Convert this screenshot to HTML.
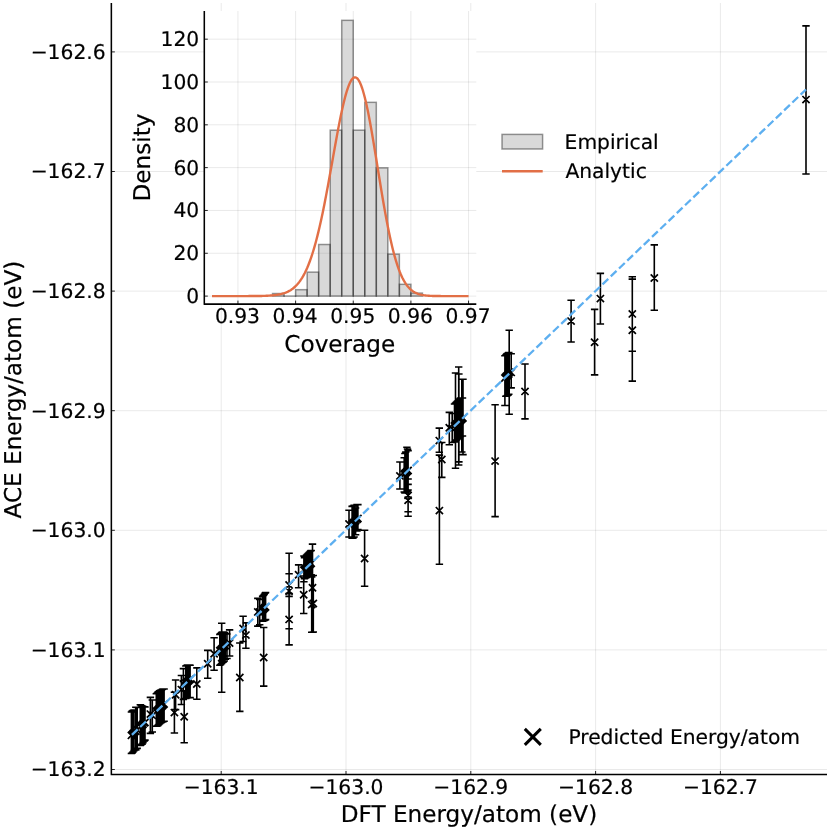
<!DOCTYPE html>
<html lang="en"><head><meta charset="utf-8"><title>ACE vs DFT Energy per atom</title>
<style>html,body{margin:0;padding:0;background:#fff}svg{display:block}</style></head>
<body>
<svg width="830" height="830" viewBox="0 0 830 830" font-family='"DejaVu Sans","Liberation Sans",sans-serif' text-rendering="geometricPrecision" stroke-linecap="butt">
<rect width="830" height="830" fill="#fff"/>
<g id="maingrid">
<line x1="221.20" y1="3.0" x2="221.20" y2="774.5" stroke="#000" stroke-opacity="0.085" stroke-width="1"/>
<line x1="346.00" y1="3.0" x2="346.00" y2="774.5" stroke="#000" stroke-opacity="0.085" stroke-width="1"/>
<line x1="470.80" y1="3.0" x2="470.80" y2="774.5" stroke="#000" stroke-opacity="0.085" stroke-width="1"/>
<line x1="595.60" y1="3.0" x2="595.60" y2="774.5" stroke="#000" stroke-opacity="0.085" stroke-width="1"/>
<line x1="720.40" y1="3.0" x2="720.40" y2="774.5" stroke="#000" stroke-opacity="0.085" stroke-width="1"/>
<line x1="111.35" y1="769.50" x2="827.0" y2="769.50" stroke="#000" stroke-opacity="0.085" stroke-width="1"/>
<line x1="111.35" y1="649.90" x2="827.0" y2="649.90" stroke="#000" stroke-opacity="0.085" stroke-width="1"/>
<line x1="111.35" y1="530.30" x2="827.0" y2="530.30" stroke="#000" stroke-opacity="0.085" stroke-width="1"/>
<line x1="111.35" y1="410.70" x2="827.0" y2="410.70" stroke="#000" stroke-opacity="0.085" stroke-width="1"/>
<line x1="111.35" y1="291.10" x2="827.0" y2="291.10" stroke="#000" stroke-opacity="0.085" stroke-width="1"/>
<line x1="111.35" y1="171.50" x2="827.0" y2="171.50" stroke="#000" stroke-opacity="0.085" stroke-width="1"/>
<line x1="111.35" y1="51.90" x2="827.0" y2="51.90" stroke="#000" stroke-opacity="0.085" stroke-width="1"/>
</g>
<g id="errbars" stroke="#000" stroke-width="1.6" fill="none">
<path d="M131.4 712.0V753.5M127.7 712.0h7.4M127.7 753.5h7.4M132.2 711.0V753.0M128.5 711.0h7.4M128.5 753.0h7.4M133.0 710.5V752.0M129.3 710.5h7.4M129.3 752.0h7.4M134.0 710.0V750.6M130.3 710.0h7.4M130.3 750.6h7.4M135.8 707.2V750.0M132.1 707.2h7.4M132.1 750.0h7.4M137.2 707.5V748.4M133.5 707.5h7.4M133.5 748.4h7.4M140.3 704.7V745.5M136.6 704.7h7.4M136.6 745.5h7.4M141.2 705.5V744.8M137.5 705.5h7.4M137.5 744.8h7.4M142.1 706.0V744.1M138.4 706.0h7.4M138.4 744.1h7.4M143.0 706.5V742.6M139.3 706.5h7.4M139.3 742.6h7.4M144.4 706.9V741.0M140.7 706.9h7.4M140.7 741.0h7.4M145.0 707.0V740.1M141.3 707.0h7.4M141.3 740.1h7.4M150.4 697.4V733.4M146.7 697.4h7.4M146.7 733.4h7.4M152.3 700.0V732.0M148.6 700.0h7.4M148.6 732.0h7.4M156.3 693.8V726.3M152.6 693.8h7.4M152.6 726.3h7.4M157.2 693.0V726.0M153.5 693.0h7.4M153.5 726.0h7.4M158.0 692.0V725.4M154.3 692.0h7.4M154.3 725.4h7.4M158.8 691.5V724.5M155.1 691.5h7.4M155.1 724.5h7.4M159.6 690.8V723.7M155.9 690.8h7.4M155.9 723.7h7.4M160.5 690.4V723.0M156.8 690.4h7.4M156.8 723.0h7.4M161.3 690.0V722.5M157.6 690.0h7.4M157.6 722.5h7.4M162.2 689.5V722.0M158.5 689.5h7.4M158.5 722.0h7.4M163.0 689.0V721.6M159.3 689.0h7.4M159.3 721.6h7.4M164.1 689.0V721.3M160.4 689.0h7.4M160.4 721.3h7.4M174.4 692.2V733.0M170.7 692.2h7.4M170.7 733.0h7.4M175.6 680.0V709.6M171.9 680.0h7.4M171.9 709.6h7.4M181.4 675.5V704.5M177.7 675.5h7.4M177.7 704.5h7.4M184.2 690.8V742.8M180.5 690.8h7.4M180.5 742.8h7.4M183.4 668.6V699.4M179.7 668.6h7.4M179.7 699.4h7.4M185.8 666.0V698.5M182.1 666.0h7.4M182.1 698.5h7.4M186.7 665.5V698.0M183.0 665.5h7.4M183.0 698.0h7.4M187.6 665.0V697.7M183.9 665.0h7.4M183.9 697.7h7.4M188.5 665.0V697.5M184.8 665.0h7.4M184.8 697.5h7.4M189.4 665.0V697.5M185.7 665.0h7.4M185.7 697.5h7.4M190.1 665.2V697.6M186.4 665.2h7.4M186.4 697.6h7.4M196.8 667.9V699.2M193.2 667.9h7.4M193.2 699.2h7.4M207.7 650.4V678.2M204.0 650.4h7.4M204.0 678.2h7.4M214.1 637.8V670.3M210.4 637.8h7.4M210.4 670.3h7.4M221.7 623.3V692.2M218.0 623.3h7.4M218.0 692.2h7.4M219.8 634.4V665.2M216.1 634.4h7.4M216.1 665.2h7.4M220.7 633.5V664.5M217.0 633.5h7.4M217.0 664.5h7.4M221.6 632.5V663.5M217.9 632.5h7.4M217.9 663.5h7.4M222.5 632.0V662.5M218.8 632.0h7.4M218.8 662.5h7.4M223.4 632.0V662.0M219.7 632.0h7.4M219.7 662.0h7.4M224.3 632.5V661.0M220.6 632.5h7.4M220.6 661.0h7.4M225.3 633.5V659.3M221.6 633.5h7.4M221.6 659.3h7.4M227.0 634.0V658.5M223.3 634.0h7.4M223.3 658.5h7.4M229.6 629.9V656.0M225.9 629.9h7.4M225.9 656.0h7.4M239.8 643.0V711.4M236.1 643.0h7.4M236.1 711.4h7.4M243.1 616.2V641.5M239.4 616.2h7.4M239.4 641.5h7.4M245.9 622.9V648.3M242.2 622.9h7.4M242.2 648.3h7.4M257.8 598.4V626.1M254.1 598.4h7.4M254.1 626.1h7.4M259.7 599.5V624.8M256.0 599.5h7.4M256.0 624.8h7.4M262.6 596.4V621.1M258.9 596.4h7.4M258.9 621.1h7.4M263.4 595.5V620.8M259.7 595.5h7.4M259.7 620.8h7.4M264.2 594.5V620.4M260.5 594.5h7.4M260.5 620.4h7.4M265.0 593.3V620.0M261.3 593.3h7.4M261.3 620.0h7.4M265.6 592.5V619.6M261.9 592.5h7.4M261.9 619.6h7.4M263.7 627.5V686.1M260.0 627.5h7.4M260.0 686.1h7.4M289.1 573.7V596.4M285.4 573.7h7.4M285.4 596.4h7.4M289.1 553.3V628.8M285.4 553.3h7.4M285.4 628.8h7.4M289.1 593.6V644.9M285.4 593.6h7.4M285.4 644.9h7.4M298.6 564.9V587.8M294.9 564.9h7.4M294.9 587.8h7.4M303.7 576.0V613.5M300.0 576.0h7.4M300.0 613.5h7.4M304.5 557.6V578.7M300.8 557.6h7.4M300.8 578.7h7.4M305.5 556.0V578.0M301.8 556.0h7.4M301.8 578.0h7.4M306.5 555.0V577.5M302.8 555.0h7.4M302.8 577.5h7.4M307.5 554.0V577.0M303.8 554.0h7.4M303.8 577.0h7.4M308.5 553.0V576.5M304.8 553.0h7.4M304.8 576.5h7.4M309.5 552.0V576.0M305.8 552.0h7.4M305.8 576.0h7.4M310.5 551.0V575.5M306.8 551.0h7.4M306.8 575.5h7.4M311.2 550.5V574.8M307.5 550.5h7.4M307.5 574.8h7.4M303.9 556.0V581.8M300.2 556.0h7.4M300.2 581.8h7.4M311.7 577.0V632.2M308.0 577.0h7.4M308.0 632.2h7.4M312.5 544.1V632.2M308.8 544.1h7.4M308.8 632.2h7.4M313.3 575.5V632.0M309.6 575.5h7.4M309.6 632.0h7.4M349.0 510.2V537.0M345.3 510.2h7.4M345.3 537.0h7.4M352.1 506.4V538.1M348.4 506.4h7.4M348.4 538.1h7.4M353.1 506.0V538.0M349.4 506.0h7.4M349.4 538.0h7.4M354.1 505.4V537.0M350.4 505.4h7.4M350.4 537.0h7.4M355.6 508.0V534.8M351.9 508.0h7.4M351.9 534.8h7.4M357.0 504.6V531.0M353.3 504.6h7.4M353.3 531.0h7.4M357.9 504.6V529.6M354.2 504.6h7.4M354.2 529.6h7.4M364.6 530.3V586.3M360.9 530.3h7.4M360.9 586.3h7.4M399.9 462.0V489.0M396.2 462.0h7.4M396.2 489.0h7.4M404.2 457.8V492.0M400.5 457.8h7.4M400.5 492.0h7.4M404.9 453.5V493.0M401.2 453.5h7.4M401.2 493.0h7.4M405.8 452.0V493.0M402.1 452.0h7.4M402.1 493.0h7.4M406.9 447.2V492.0M403.2 447.2h7.4M403.2 492.0h7.4M407.5 449.0V491.0M403.8 449.0h7.4M403.8 491.0h7.4M408.1 450.6V490.0M404.4 450.6h7.4M404.4 490.0h7.4M408.1 479.0V511.8M404.4 479.0h7.4M404.4 511.8h7.4M408.1 484.4V516.2M404.4 484.4h7.4M404.4 516.2h7.4M439.4 455.1V564.2M435.7 455.1h7.4M435.7 564.2h7.4M439.3 428.1V452.3M435.6 428.1h7.4M435.6 452.3h7.4M441.8 442.5V477.4M438.1 442.5h7.4M438.1 477.4h7.4M449.3 412.4V444.8M445.6 412.4h7.4M445.6 444.8h7.4M452.2 413.5V442.5M448.5 413.5h7.4M448.5 442.5h7.4M455.5 373.0V468.2M451.8 373.0h7.4M451.8 468.2h7.4M458.9 374.0V461.9M455.2 374.0h7.4M455.2 461.9h7.4M458.7 367.0V465.0M455.0 367.0h7.4M455.0 465.0h7.4M461.8 379.2V452.0M458.1 379.2h7.4M458.1 452.0h7.4M463.0 379.2V454.6M459.3 379.2h7.4M459.3 454.6h7.4M454.5 404.0V442.0M450.8 404.0h7.4M450.8 442.0h7.4M455.5 403.0V441.0M451.8 403.0h7.4M451.8 441.0h7.4M456.5 402.0V440.0M452.8 402.0h7.4M452.8 440.0h7.4M457.5 401.0V439.0M453.8 401.0h7.4M453.8 439.0h7.4M458.5 400.0V438.0M454.8 400.0h7.4M454.8 438.0h7.4M459.5 399.0V437.0M455.8 399.0h7.4M455.8 437.0h7.4M460.5 398.0V436.5M456.8 398.0h7.4M456.8 436.5h7.4M461.5 398.0V436.0M457.8 398.0h7.4M457.8 436.0h7.4M462.5 398.0V436.0M458.8 398.0h7.4M458.8 436.0h7.4M495.1 404.7V516.6M491.4 404.7h7.4M491.4 516.6h7.4M509.2 330.2V414.2M505.5 330.2h7.4M505.5 414.2h7.4M504.9 355.8V405.5M501.2 355.8h7.4M501.2 405.5h7.4M505.8 355.0V396.3M502.1 355.0h7.4M502.1 396.3h7.4M506.6 354.0V396.0M502.9 354.0h7.4M502.9 396.0h7.4M507.4 353.5V395.5M503.7 353.5h7.4M503.7 395.5h7.4M508.2 353.0V395.0M504.5 353.0h7.4M504.5 395.0h7.4M508.8 352.5V394.3M505.1 352.5h7.4M505.1 394.3h7.4M511.2 353.8V387.9M507.5 353.8h7.4M507.5 387.9h7.4M525.0 364.0V418.9M521.3 364.0h7.4M521.3 418.9h7.4M571.1 300.2V342.0M567.4 300.2h7.4M567.4 342.0h7.4M594.6 309.4V374.9M590.9 309.4h7.4M590.9 374.9h7.4M600.4 273.4V324.0M596.7 273.4h7.4M596.7 324.0h7.4M632.3 276.7V351.2M628.6 276.7h7.4M628.6 351.2h7.4M632.3 279.1V381.1M628.6 279.1h7.4M628.6 381.1h7.4M654.3 244.9V310.2M650.6 244.9h7.4M650.6 310.2h7.4M806.0 25.9V174.0M802.3 25.9h7.4M802.3 174.0h7.4"/>
</g>
<g id="markers" stroke="#000" stroke-width="1.7" fill="none">
<path d="M127.8 731.8l7.2 7.2M127.8 739.0l7.2 -7.2M128.6 731.0l7.2 7.2M128.6 738.2l7.2 -7.2M129.4 730.2l7.2 7.2M129.4 737.4l7.2 -7.2M130.4 729.3l7.2 7.2M130.4 736.5l7.2 -7.2M132.2 727.6l7.2 7.2M132.2 734.8l7.2 -7.2M133.6 726.2l7.2 7.2M133.6 733.4l7.2 -7.2M136.7 723.3l7.2 7.2M136.7 730.5l7.2 -7.2M137.6 722.4l7.2 7.2M137.6 729.6l7.2 -7.2M138.5 721.5l7.2 7.2M138.5 728.7l7.2 -7.2M139.4 720.7l7.2 7.2M139.4 727.9l7.2 -7.2M140.8 719.3l7.2 7.2M140.8 726.5l7.2 -7.2M141.4 718.8l7.2 7.2M141.4 726.0l7.2 -7.2M146.8 710.5l7.2 7.2M146.8 717.7l7.2 -7.2M148.7 711.8l7.2 7.2M148.7 719.0l7.2 -7.2M152.7 707.9l7.2 7.2M152.7 715.1l7.2 -7.2M153.6 707.1l7.2 7.2M153.6 714.3l7.2 -7.2M154.4 706.3l7.2 7.2M154.4 713.5l7.2 -7.2M155.2 705.5l7.2 7.2M155.2 712.7l7.2 -7.2M156.0 704.8l7.2 7.2M156.0 712.0l7.2 -7.2M156.9 703.9l7.2 7.2M156.9 711.1l7.2 -7.2M157.7 703.2l7.2 7.2M157.7 710.4l7.2 -7.2M158.6 702.3l7.2 7.2M158.6 709.5l7.2 -7.2M159.4 701.5l7.2 7.2M159.4 708.7l7.2 -7.2M160.5 700.5l7.2 7.2M160.5 707.7l7.2 -7.2M170.8 709.0l7.2 7.2M170.8 716.2l7.2 -7.2M172.0 691.2l7.2 7.2M172.0 698.4l7.2 -7.2M177.8 686.0l7.2 7.2M177.8 693.2l7.2 -7.2M180.6 713.2l7.2 7.2M180.6 720.4l7.2 -7.2M179.8 680.4l7.2 7.2M179.8 687.6l7.2 -7.2M182.2 679.7l7.2 7.2M182.2 686.9l7.2 -7.2M183.1 678.8l7.2 7.2M183.1 686.0l7.2 -7.2M184.0 678.0l7.2 7.2M184.0 685.2l7.2 -7.2M184.9 677.1l7.2 7.2M184.9 684.3l7.2 -7.2M185.8 676.2l7.2 7.2M185.8 683.4l7.2 -7.2M186.5 675.6l7.2 7.2M186.5 682.8l7.2 -7.2M193.2 680.4l7.2 7.2M193.2 687.6l7.2 -7.2M204.1 660.2l7.2 7.2M204.1 667.4l7.2 -7.2M210.5 650.1l7.2 7.2M210.5 657.3l7.2 -7.2M218.1 654.1l7.2 7.2M218.1 661.3l7.2 -7.2M216.2 647.1l7.2 7.2M216.2 654.3l7.2 -7.2M217.1 646.3l7.2 7.2M217.1 653.5l7.2 -7.2M218.0 645.4l7.2 7.2M218.0 652.6l7.2 -7.2M218.9 644.6l7.2 7.2M218.9 651.8l7.2 -7.2M219.8 643.7l7.2 7.2M219.8 650.9l7.2 -7.2M220.7 642.8l7.2 7.2M220.7 650.0l7.2 -7.2M221.7 641.9l7.2 7.2M221.7 649.1l7.2 -7.2M223.4 640.3l7.2 7.2M223.4 647.5l7.2 -7.2M226.0 639.5l7.2 7.2M226.0 646.7l7.2 -7.2M236.2 673.9l7.2 7.2M236.2 681.1l7.2 -7.2M239.5 624.9l7.2 7.2M239.5 632.1l7.2 -7.2M242.3 631.5l7.2 7.2M242.3 638.7l7.2 -7.2M254.2 608.3l7.2 7.2M254.2 615.5l7.2 -7.2M256.1 608.4l7.2 7.2M256.1 615.6l7.2 -7.2M259.0 606.2l7.2 7.2M259.0 613.4l7.2 -7.2M259.8 605.4l7.2 7.2M259.8 612.6l7.2 -7.2M260.6 604.6l7.2 7.2M260.6 611.8l7.2 -7.2M261.4 603.9l7.2 7.2M261.4 611.1l7.2 -7.2M262.0 603.3l7.2 7.2M262.0 610.5l7.2 -7.2M260.1 653.9l7.2 7.2M260.1 661.1l7.2 -7.2M285.5 581.4l7.2 7.2M285.5 588.6l7.2 -7.2M285.5 587.4l7.2 7.2M285.5 594.6l7.2 -7.2M285.5 615.8l7.2 7.2M285.5 623.0l7.2 -7.2M295.0 571.2l7.2 7.2M295.0 578.4l7.2 -7.2M300.1 591.2l7.2 7.2M300.1 598.4l7.2 -7.2M300.9 566.1l7.2 7.2M300.9 573.3l7.2 -7.2M301.9 565.1l7.2 7.2M301.9 572.3l7.2 -7.2M302.9 564.1l7.2 7.2M302.9 571.3l7.2 -7.2M303.9 563.2l7.2 7.2M303.9 570.4l7.2 -7.2M304.9 562.2l7.2 7.2M304.9 569.4l7.2 -7.2M305.9 561.3l7.2 7.2M305.9 568.5l7.2 -7.2M306.9 560.3l7.2 7.2M306.9 567.5l7.2 -7.2M307.6 559.6l7.2 7.2M307.6 566.8l7.2 -7.2M300.3 566.6l7.2 7.2M300.3 573.8l7.2 -7.2M308.1 601.0l7.2 7.2M308.1 608.2l7.2 -7.2M308.9 584.2l7.2 7.2M308.9 591.4l7.2 -7.2M309.7 599.9l7.2 7.2M309.7 607.1l7.2 -7.2M345.4 520.4l7.2 7.2M345.4 527.6l7.2 -7.2M348.5 520.5l7.2 7.2M348.5 527.7l7.2 -7.2M349.5 519.5l7.2 7.2M349.5 526.7l7.2 -7.2M350.5 518.6l7.2 7.2M350.5 525.8l7.2 -7.2M352.0 517.1l7.2 7.2M352.0 524.3l7.2 -7.2M353.4 515.8l7.2 7.2M353.4 523.0l7.2 -7.2M354.3 514.9l7.2 7.2M354.3 522.1l7.2 -7.2M361.0 554.9l7.2 7.2M361.0 562.1l7.2 -7.2M396.3 472.3l7.2 7.2M396.3 479.5l7.2 -7.2M400.6 470.6l7.2 7.2M400.6 477.8l7.2 -7.2M401.3 469.9l7.2 7.2M401.3 477.1l7.2 -7.2M402.2 469.1l7.2 7.2M402.2 476.3l7.2 -7.2M403.3 468.0l7.2 7.2M403.3 475.2l7.2 -7.2M403.9 467.4l7.2 7.2M403.9 474.6l7.2 -7.2M404.5 466.9l7.2 7.2M404.5 474.1l7.2 -7.2M404.5 491.8l7.2 7.2M404.5 499.0l7.2 -7.2M404.5 496.7l7.2 7.2M404.5 503.9l7.2 -7.2M435.8 507.0l7.2 7.2M435.8 514.2l7.2 -7.2M435.7 437.0l7.2 7.2M435.7 444.2l7.2 -7.2M438.2 455.9l7.2 7.2M438.2 463.1l7.2 -7.2M445.7 424.2l7.2 7.2M445.7 431.4l7.2 -7.2M448.6 424.9l7.2 7.2M448.6 432.1l7.2 -7.2M451.9 421.5l7.2 7.2M451.9 428.7l7.2 -7.2M455.3 418.2l7.2 7.2M455.3 425.4l7.2 -7.2M455.1 418.4l7.2 7.2M455.1 425.6l7.2 -7.2M458.2 415.5l7.2 7.2M458.2 422.7l7.2 -7.2M459.4 414.3l7.2 7.2M459.4 421.5l7.2 -7.2M450.9 422.4l7.2 7.2M450.9 429.6l7.2 -7.2M451.9 421.5l7.2 7.2M451.9 428.7l7.2 -7.2M452.9 420.5l7.2 7.2M452.9 427.7l7.2 -7.2M453.9 419.6l7.2 7.2M453.9 426.8l7.2 -7.2M454.9 418.6l7.2 7.2M454.9 425.8l7.2 -7.2M455.9 417.7l7.2 7.2M455.9 424.9l7.2 -7.2M456.9 416.7l7.2 7.2M456.9 423.9l7.2 -7.2M457.9 415.7l7.2 7.2M457.9 422.9l7.2 -7.2M458.9 414.8l7.2 7.2M458.9 422.0l7.2 -7.2M491.5 457.5l7.2 7.2M491.5 464.7l7.2 -7.2M505.6 368.6l7.2 7.2M505.6 375.8l7.2 -7.2M501.3 374.4l7.2 7.2M501.3 381.6l7.2 -7.2M502.2 373.3l7.2 7.2M502.2 380.5l7.2 -7.2M503.0 372.6l7.2 7.2M503.0 379.8l7.2 -7.2M503.8 371.8l7.2 7.2M503.8 379.0l7.2 -7.2M504.6 371.0l7.2 7.2M504.6 378.2l7.2 -7.2M505.2 370.5l7.2 7.2M505.2 377.7l7.2 -7.2M507.6 368.8l7.2 7.2M507.6 376.0l7.2 -7.2M521.4 387.8l7.2 7.2M521.4 395.0l7.2 -7.2M567.5 317.5l7.2 7.2M567.5 324.7l7.2 -7.2M591.0 338.6l7.2 7.2M591.0 345.8l7.2 -7.2M596.8 295.0l7.2 7.2M596.8 302.2l7.2 -7.2M628.7 310.3l7.2 7.2M628.7 317.5l7.2 -7.2M628.7 326.7l7.2 7.2M628.7 333.9l7.2 -7.2M650.7 274.4l7.2 7.2M650.7 281.6l7.2 -7.2M802.4 96.0l7.2 7.2M802.4 103.2l7.2 -7.2"/>
</g>
<line x1="131.9" y1="734.9" x2="806" y2="89.5" stroke="#5daff0" stroke-width="2.3" stroke-dasharray="7.98 3.45"/>
<path d="M111.35 3.0V774.5M110.64999999999999 774.5H827.0" stroke="#000" stroke-width="1.55" fill="none"/>
<path d="M221.20 774.5v-3.5M346.00 774.5v-3.5M470.80 774.5v-3.5M595.60 774.5v-3.5M720.40 774.5v-3.5M111.35 769.50h3.5M111.35 649.90h3.5M111.35 530.30h3.5M111.35 410.70h3.5M111.35 291.10h3.5M111.35 171.50h3.5M111.35 51.90h3.5" stroke="#000" stroke-width="0.85" fill="none"/>
<g font-size="20.25" fill="#000" stroke="#000" stroke-width="0.2">
<text x="221.20" y="793.8" text-anchor="middle">−163.1</text>
<text x="346.00" y="793.8" text-anchor="middle">−163.0</text>
<text x="470.80" y="793.8" text-anchor="middle">−162.9</text>
<text x="595.60" y="793.8" text-anchor="middle">−162.8</text>
<text x="720.40" y="793.8" text-anchor="middle">−162.7</text>
<text x="105.6" y="776.40" text-anchor="end">−163.2</text>
<text x="105.6" y="656.80" text-anchor="end">−163.1</text>
<text x="105.6" y="537.20" text-anchor="end">−163.0</text>
<text x="105.6" y="417.60" text-anchor="end">−162.9</text>
<text x="105.6" y="298.00" text-anchor="end">−162.8</text>
<text x="105.6" y="178.40" text-anchor="end">−162.7</text>
<text x="105.6" y="58.80" text-anchor="end">−162.6</text>
</g>
<text x="469" y="822" font-size="23.15" text-anchor="middle" stroke="#000" stroke-width="0.2">DFT Energy/atom (eV)</text>
<text transform="translate(20.8 389.6) rotate(-90)" font-size="23.15" text-anchor="middle" stroke="#000" stroke-width="0.2">ACE Energy/atom (eV)</text>
<path d="M524.8 728.9l16.0 16.0M524.8 744.9l16.0 -16.0" stroke="#000" stroke-width="3" fill="none"/>
<text x="568.4" y="743.9" font-size="20.25" stroke="#000" stroke-width="0.2">Predicted Energy/atom</text>
<rect x="204.3" y="11.0" width="272.0" height="293.1" fill="#fff"/>
<g id="insetgrid">
<line x1="237.95" y1="11.0" x2="237.95" y2="304.1" stroke="#000" stroke-opacity="0.085" stroke-width="1"/>
<line x1="295.60" y1="11.0" x2="295.60" y2="304.1" stroke="#000" stroke-opacity="0.085" stroke-width="1"/>
<line x1="353.25" y1="11.0" x2="353.25" y2="304.1" stroke="#000" stroke-opacity="0.085" stroke-width="1"/>
<line x1="410.90" y1="11.0" x2="410.90" y2="304.1" stroke="#000" stroke-opacity="0.085" stroke-width="1"/>
<line x1="468.55" y1="11.0" x2="468.55" y2="304.1" stroke="#000" stroke-opacity="0.085" stroke-width="1"/>
<line x1="204.3" y1="296.10" x2="476.3" y2="296.10" stroke="#000" stroke-opacity="0.085" stroke-width="1"/>
<line x1="204.3" y1="253.28" x2="476.3" y2="253.28" stroke="#000" stroke-opacity="0.085" stroke-width="1"/>
<line x1="204.3" y1="210.46" x2="476.3" y2="210.46" stroke="#000" stroke-opacity="0.085" stroke-width="1"/>
<line x1="204.3" y1="167.64" x2="476.3" y2="167.64" stroke="#000" stroke-opacity="0.085" stroke-width="1"/>
<line x1="204.3" y1="124.82" x2="476.3" y2="124.82" stroke="#000" stroke-opacity="0.085" stroke-width="1"/>
<line x1="204.3" y1="82.00" x2="476.3" y2="82.00" stroke="#000" stroke-opacity="0.085" stroke-width="1"/>
<line x1="204.3" y1="39.18" x2="476.3" y2="39.18" stroke="#000" stroke-opacity="0.085" stroke-width="1"/>
</g>
<g id="bars" fill="#808080" fill-opacity="0.3" stroke="#000" stroke-opacity="0.4" stroke-width="1.5">
<rect x="272.54" y="293.53" width="11.53" height="2.57"/>
<line x1="283.32" y1="296.10" x2="296.35" y2="296.10"/>
<rect x="295.60" y="289.68" width="11.53" height="6.42"/>
<rect x="307.13" y="272.12" width="11.53" height="23.98"/>
<rect x="318.66" y="244.50" width="11.53" height="51.60"/>
<rect x="330.19" y="130.17" width="11.53" height="165.93"/>
<rect x="341.72" y="20.34" width="11.53" height="275.76"/>
<rect x="353.25" y="130.17" width="11.53" height="165.93"/>
<rect x="364.78" y="102.34" width="11.53" height="193.76"/>
<rect x="376.31" y="167.85" width="11.53" height="128.25"/>
<rect x="387.84" y="254.14" width="11.53" height="41.96"/>
<rect x="399.37" y="284.32" width="11.53" height="11.78"/>
<rect x="410.90" y="293.10" width="11.53" height="3.00"/>
</g>
<path d="M212.01 296.10L212.87 296.10L213.72 296.10L214.58 296.10L215.44 296.10L216.30 296.10L217.16 296.10L218.01 296.10L218.87 296.10L219.73 296.10L220.59 296.10L221.45 296.10L222.30 296.10L223.16 296.10L224.02 296.10L224.88 296.10L225.74 296.10L226.59 296.10L227.45 296.10L228.31 296.10L229.17 296.10L230.03 296.10L230.88 296.10L231.74 296.10L232.60 296.10L233.46 296.10L234.32 296.10L235.17 296.10L236.03 296.10L236.89 296.10L237.75 296.10L238.61 296.10L239.46 296.09L240.32 296.09L241.18 296.09L242.04 296.09L242.90 296.09L243.75 296.09L244.61 296.09L245.47 296.09L246.33 296.08L247.19 296.08L248.04 296.08L248.90 296.07L249.76 296.07L250.62 296.07L251.48 296.06L252.33 296.06L253.19 296.05L254.05 296.04L254.91 296.04L255.77 296.03L256.62 296.02L257.48 296.01L258.34 296.00L259.20 295.98L260.06 295.97L260.91 295.95L261.77 295.93L262.63 295.91L263.49 295.88L264.35 295.86L265.20 295.83L266.06 295.79L266.92 295.75L267.78 295.71L268.64 295.66L269.49 295.61L270.35 295.55L271.21 295.49L272.07 295.42L272.93 295.34L273.78 295.25L274.64 295.15L275.50 295.05L276.36 294.93L277.22 294.80L278.07 294.65L278.93 294.49L279.79 294.32L280.65 294.13L281.51 293.92L282.36 293.69L283.22 293.44L284.08 293.17L284.94 292.87L285.80 292.54L286.65 292.19L287.51 291.80L288.37 291.38L289.23 290.92L290.09 290.43L290.94 289.89L291.80 289.31L292.66 288.69L293.52 288.01L294.38 287.28L295.23 286.50L296.09 285.65L296.95 284.75L297.81 283.78L298.67 282.73L299.52 281.62L300.38 280.43L301.24 279.16L302.10 277.80L302.96 276.36L303.81 274.83L304.67 273.20L305.53 271.47L306.39 269.64L307.25 267.71L308.10 265.67L308.96 263.52L309.82 261.25L310.68 258.87L311.54 256.37L312.39 253.75L313.25 251.00L314.11 248.13L314.97 245.14L315.83 242.02L316.68 238.78L317.54 235.41L318.40 231.91L319.26 228.30L320.12 224.56L320.97 220.71L321.83 216.74L322.69 212.67L323.55 208.49L324.41 204.20L325.26 199.83L326.12 195.37L326.98 190.82L327.84 186.21L328.70 181.54L329.55 176.81L330.41 172.05L331.27 167.25L332.13 162.43L332.99 157.61L333.84 152.80L334.70 148.01L335.56 143.25L336.42 138.54L337.28 133.90L338.13 129.34L338.99 124.87L339.85 120.51L340.71 116.28L341.57 112.19L342.42 108.26L343.28 104.50L344.14 100.93L345.00 97.56L345.86 94.41L346.71 91.49L347.57 88.81L348.43 86.39L349.29 84.23L350.15 82.36L351.00 80.77L351.86 79.47L352.72 78.47L353.58 77.79L354.44 77.42L355.29 77.36L356.15 77.62L357.01 78.20L357.87 79.10L358.73 80.32L359.58 81.85L360.44 83.68L361.30 85.82L362.16 88.25L363.02 90.97L363.87 93.96L364.73 97.21L365.59 100.72L366.45 104.46L367.31 108.43L368.16 112.60L369.02 116.97L369.88 121.51L370.74 126.21L371.60 131.05L372.45 136.02L373.31 141.08L374.17 146.24L375.03 151.46L375.89 156.74L376.74 162.05L377.60 167.37L378.46 172.69L379.32 177.99L380.18 183.26L381.03 188.49L381.89 193.64L382.75 198.73L383.61 203.72L384.47 208.61L385.32 213.39L386.18 218.05L387.04 222.59L387.90 226.98L388.76 231.23L389.61 235.33L390.47 239.28L391.33 243.07L392.19 246.70L393.05 250.17L393.90 253.48L394.76 256.62L395.62 259.61L396.48 262.43L397.34 265.10L398.19 267.61L399.05 269.97L399.91 272.18L400.77 274.25L401.63 276.18L402.48 277.98L403.34 279.64L404.20 281.19L405.06 282.62L405.92 283.94L406.77 285.15L407.63 286.26L408.49 287.28L409.35 288.21L410.21 289.06L411.06 289.83L411.92 290.52L412.78 291.16L413.64 291.72L414.50 292.24L415.35 292.70L416.21 293.11L417.07 293.48L417.93 293.81L418.79 294.10L419.64 294.36L420.50 294.59L421.36 294.79L422.22 294.97L423.08 295.12L423.93 295.26L424.79 295.38L425.65 295.48L426.51 295.57L427.37 295.65L428.22 295.72L429.08 295.78L429.94 295.83L430.80 295.87L431.66 295.91L432.51 295.94L433.37 295.96L434.23 295.99L435.09 296.01L435.95 296.02L436.80 296.04L437.66 296.05L438.52 296.06L439.38 296.06L440.24 296.07L441.09 296.08L441.95 296.08L442.81 296.08L443.67 296.09L444.53 296.09L445.38 296.09L446.24 296.09L447.10 296.09L447.96 296.10L448.82 296.10L449.67 296.10L450.53 296.10L451.39 296.10L452.25 296.10L453.11 296.10L453.96 296.10L454.82 296.10L455.68 296.10L456.54 296.10L457.40 296.10L458.25 296.10L459.11 296.10L459.97 296.10L460.83 296.10L461.69 296.10L462.54 296.10L463.40 296.10L464.26 296.10L465.12 296.10L465.98 296.10L466.83 296.10L467.69 296.10L468.55 296.10" stroke="#e26f46" stroke-width="2.4" fill="none" stroke-linejoin="round"/>
<path d="M204.3 11.0V304.1M203.60000000000002 304.1H476.3" stroke="#000" stroke-width="1.55" fill="none"/>
<path d="M237.95 304.1v-3.5M295.60 304.1v-3.5M353.25 304.1v-3.5M410.90 304.1v-3.5M468.55 304.1v-3.5M204.3 296.10h3.5M204.3 253.28h3.5M204.3 210.46h3.5M204.3 167.64h3.5M204.3 124.82h3.5M204.3 82.00h3.5M204.3 39.18h3.5" stroke="#000" stroke-width="0.85" fill="none"/>
<g font-size="20.25" fill="#000" stroke="#000" stroke-width="0.2">
<text x="237.45" y="323.4" text-anchor="middle">0.93</text>
<text x="295.10" y="323.4" text-anchor="middle">0.94</text>
<text x="352.75" y="323.4" text-anchor="middle">0.95</text>
<text x="410.40" y="323.4" text-anchor="middle">0.96</text>
<text x="468.05" y="323.4" text-anchor="middle">0.97</text>
<text x="199.2" y="303.00" text-anchor="end">0</text>
<text x="199.2" y="260.18" text-anchor="end">20</text>
<text x="199.2" y="217.36" text-anchor="end">40</text>
<text x="199.2" y="174.54" text-anchor="end">60</text>
<text x="199.2" y="131.72" text-anchor="end">80</text>
<text x="199.2" y="88.90" text-anchor="end">100</text>
<text x="199.2" y="46.08" text-anchor="end">120</text>
</g>
<text x="339.8" y="351.7" font-size="23.15" text-anchor="middle" stroke="#000" stroke-width="0.2">Coverage</text>
<text transform="translate(150.1 157.5) rotate(-90)" font-size="23.15" text-anchor="middle" stroke="#000" stroke-width="0.2">Density</text>
<rect x="502" y="134.4" width="40.6" height="14.6" fill="#808080" fill-opacity="0.3" stroke="#000" stroke-opacity="0.4" stroke-width="1.5"/>
<text x="564.6" y="148.9" font-size="20.25" stroke="#000" stroke-width="0.2">Empirical</text>
<line x1="502" y1="171.3" x2="542.7" y2="171.3" stroke="#e26f46" stroke-width="2.4"/>
<text x="565.4" y="178.1" font-size="20.25" stroke="#000" stroke-width="0.2">Analytic</text>
</svg>
</body></html>
